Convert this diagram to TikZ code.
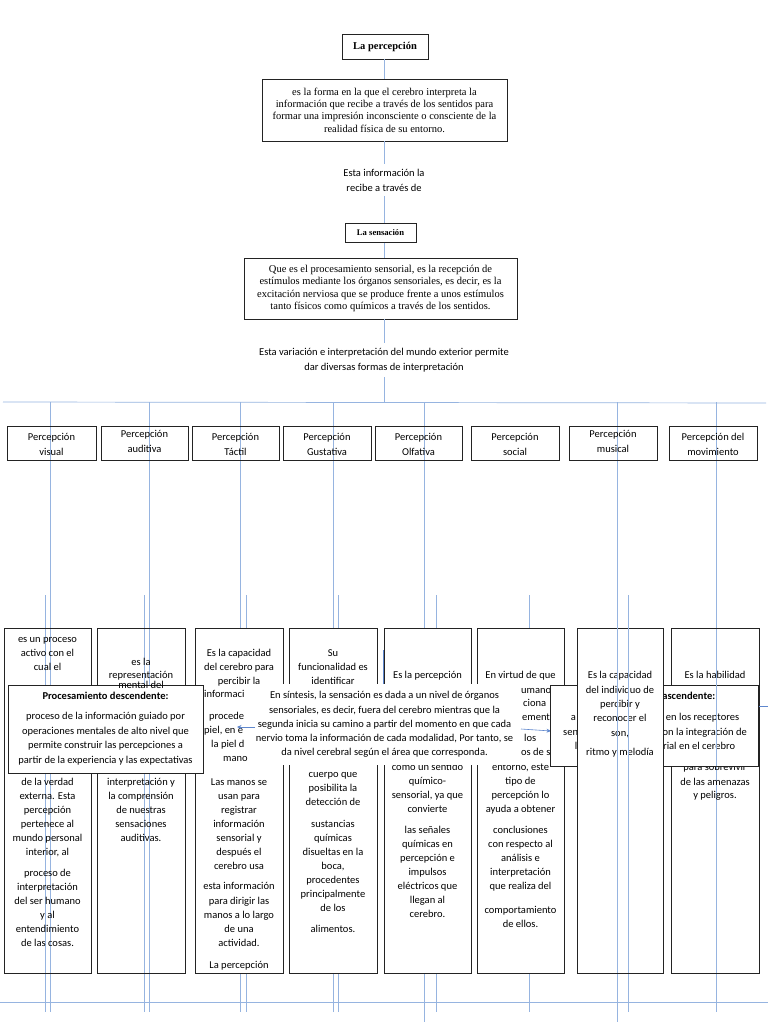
\documentclass[tikz,border=0pt]{standalone}
\usepackage{fontspec}
\setmainfont{Liberation Serif}
\newfontfamily\calib{Carlito}
\usetikzlibrary{arrows.meta}
\definecolor{lb}{RGB}{150,180,224}
\definecolor{lbd}{RGB}{95,135,205}
\definecolor{bxc}{RGB}{35,35,35}
\newcommand\colt[3]{\foreach \yy/\lin [count=\i] in {#3} {\node[tx] (#1-\i) at (#2,\yy+3.5) {\lin};}}
\newcommand\catbox[6]{\node[bx, minimum width=#3pt, minimum height=34pt] (#1) at (#2,443) {};
  \node[tx] (#1a) at (#2,#6+3.5) {#4};
  \node[tx] (#1b) at (#2,#6+18.5) {#5};}
\newcommand\colbox[4]{\node[bx, minimum width=#3pt, minimum height=345pt, #4] (#1) at (#2,800.5) {};}
\begin{document}
\begin{tikzpicture}[x=1pt,y=-1pt,
  bx/.style={draw=bxc, line width=0.8pt, inner sep=0pt},
  tx/.style={font=\calib\fontsize{10.5}{12}\selectfont, inner sep=0pt, anchor=base},
  txw/.style={tx, anchor=base west},
  txe/.style={tx, anchor=base east},
  txb/.style={tx, font=\calib\bfseries\fontsize{10.5}{12}\selectfont},
  conn/.style={draw=lb, line width=0.7pt},
  arr/.style={draw=lbd, line width=0.6pt, -{Stealth[length=4.5pt,width=4pt]}},
  ser/.style={font=\fontsize{10.5}{12.4}\selectfont, align=center},
  stx/.style={font=\calib\fontsize{10.5}{15}\selectfont, align=center, inner sep=5pt}
]
\useasboundingbox[fill=white] (0,0) rectangle (768,1024);
\coordinate (ax) at (384,0);

% ---------- top part ----------
\node[bx, minimum width=86pt, minimum height=25pt, font=\bfseries\fontsize{10.5}{12}\selectfont] (p1) at (385,46.5) {La percepción};
\node[bx, minimum width=245pt, minimum height=62pt, ser] (d1) at (384.5,110) {es la forma en la que el cerebro interpreta la\\información que recibe a través de los sentidos para\\formar una impresión inconsciente o consciente de la\\realidad física de su entorno.};
\node[stx] (t1) at (384,180) {Esta información la\\recibe a través de};
\node[bx, minimum width=71pt, minimum height=19pt, font=\bfseries\fontsize{8.6}{10}\selectfont] (s1) at (380.5,233) {La sensación};
\node[bx, minimum width=273pt, minimum height=61pt, ser] (sd) at (380.5,288.5) {Que es el procesamiento sensorial, es la recepción de\\estímulos mediante los órganos sensoriales, es decir, es la\\excitación nerviosa que se produce frente a unos estímulos\\tanto físicos como químicos a través de los sentidos.};
\node[stx] (t2) at (384,360) {Esta variación e interpretación del mundo exterior permite\\dar diversas formas de interpretación};

\coordinate (hL) at (3,402);
\coordinate (hR) at (766,403);
\draw[conn] (ax |- p1.south) -- (ax |- d1.north);
\draw[conn] (ax |- d1.south) -- (ax |- t1.north);
\draw[conn] (ax |- t1.south) -- (ax |- s1.north);
\draw[conn] (ax |- s1.south) -- (ax |- sd.north);
\draw[conn] (ax |- sd.south) -- (ax |- t2.north);
\draw[conn] (ax |- t2.south) -- (ax |- hL);
\draw[conn] (hL) -- (hR);

% ---------- vertical lines ----------
\foreach \n/\x/\e in {1/50/1012, 2/149/1012, 3/240/1012, 4/333/1012, 5/424/1022, 7/617/1022, 8/716/1012} {
  \coordinate (vt\n) at (\x,402); \coordinate (vb\n) at (\x,\e); \draw[conn] (vt\n) -- (vb\n);}
\foreach \n/\x in {1/45, 2/144, 3/246, 4/338, 5/436, 6/529, 7/628} {
  \coordinate (wt\n) at (\x,595); \coordinate (wb\n) at (\x,1012); \draw[conn] (wt\n) -- (wb\n);}
\coordinate (bL) at (0,1002); \coordinate (bR) at (768,1002);
\draw[conn] (bL) -- (bR);

% ---------- category row ----------
\catbox{k1}{51.5}{89}{Percepción}{visual}{437}
\catbox{k2}{144.5}{87}{Percepción}{auditiva}{434}
\catbox{k3}{235.5}{87}{Percepción}{Táctil}{437}
\catbox{k4}{327}{88}{Percepción}{Gustativa}{437}
\catbox{k5}{418.5}{87}{Percepción}{Olfativa}{437}
\catbox{k6}{515}{88}{Percepción}{social}{437}
\catbox{k7}{613}{88}{Percepción}{musical}{434}
\catbox{k8}{713}{88}{Percepción del}{movimiento}{437}

% ---------- opaque column boxes 3-6 ----------
\colbox{b3}{239}{88}{fill=white}
\colbox{b4}{333}{88}{fill=white}
\colbox{b5}{427.5}{87}{fill=white}
\colbox{b6}{520.5}{87}{fill=white}

\colt{cc}{239}{653/Es la capacidad, 667/del cerebro para, 681/percibir la,
  782/Las manos se, 796/usan para, 810/registrar, 824/información, 838/sensorial y,
  852/después el, 866/cerebro usa, 886/esta información, 901/para dirigir las,
  915/manos a lo largo, 929/de una, 943/actividad., 965/La percepción}
\node[txw] (cc-f1) at (204,697.5) {informaci};
\node[txw] (cc-f2) at (209,719.5) {procede};
\node[txw] (cc-f3) at (204,733.5) {piel, en e};
\node[txw] (cc-f4) at (211,747.5) {la piel d};
\node[txw] (cc-f5) at (223,761.5) {mano};

\colt{cd}{333}{653/Su, 667/funcionalidad es, 681/identificar, 774/cuerpo que,
  788/posibilita la, 802/detección de, 824/sustancias, 838/químicas, 852/disueltas en la,
  866/{boca,}, 880/procedentes, 894/principalmente, 908/de los, 929/alimentos.}

\colt{ce}{427.5}{675/Es la percepción, 767/como un sentido, 781/químico-,
  795/{sensorial, ya que}, 809/convierte, 830/las señales, 844/químicas en,
  858/percepción e, 872/impulsos, 886/eléctricos que, 900/llegan al, 914/cerebro.}

\colt{cf}{520.5}{675/En virtud de que, 767/{entorno, este}, 781/tipo de, 795/percepción lo,
  809/ayuda a obtener, 830/conclusiones, 844/con respecto al, 858/análisis e,
  872/interpretación, 886/que realiza del, 910/comportamiento, 924/de ellos.}
\node[txw] (cf-f1) at (521,693.5) {umano};
\node[txw] (cf-f2) at (523,706.5) {ciona};
\node[txw] (cf-f3) at (522,720.5) {ement};
\node[txw] (cf-f4) at (524,741.5) {los};
\node[txw] (cf-f5) at (521,755.5) {os de s};

% ---------- transparent column boxes 1, 2, 8 ----------
\colbox{b1}{47.5}{87}{}
\colbox{b2}{141}{88}{}
\colbox{b8}{715}{88}{}

\colt{ca}{47.5}{639/es un proceso, 653/activo con el, 667/cual el, 782/de la verdad,
  796/externa. Esta, 810/percepción, 824/pertenece al, 838/mundo personal,
  852/{interior, al}, 873/proceso de, 887/interpretación, 901/del ser humano,
  915/y al, 929/entendimiento, 943/de las cosas.}
\colt{cb}{141}{662/es la, 675/representación, 782/interpretación y, 796/la comprensión,
  810/de nuestras, 824/sensaciones, 838/auditivas.}
\colt{ch}{715}{675/Es la habilidad, 767/para sobrevivir, 782/de las amenazas, 795/y peligros.}

% ---------- Procesamiento descendente ----------
\node[bx, fill=white, minimum width=195pt, minimum height=88pt] (desc) at (105.5,729) {};
\node[txb] (desc-t) at (105.5,699) {Procesamiento descendente:};
\colt{dl}{105.5}{716/proceso de la información guiado por, 731/operaciones mentales de alto nivel que,
  745/permite construir las percepciones a, 760/partir de la experiencia y las expectativas}
\node[tx] (cb-m) at (141,688.3) {mental del};

% ---------- En sintesis ----------
\node[fill=white, inner sep=0pt, minimum width=267pt, minimum height=81pt] (sint) at (385.5,724.5) {};
\colt{sl}{384.5}{695/{En síntesis, la sensación es dada a un nivel de órganos},
  709.5/{sensoriales, es decir, fuera del cerebro mientras que la},
  723.5/segunda inicia su camino a partir del momento en que cada,
  737.5/{nervio toma la información de cada modalidad, Por tanto, se},
  751.5/da nivel cerebral según el área que corresponda.}
\coordinate (la1) at (255,727); \coordinate (la2) at (237,727);
\draw[arr] (la1) -- (la2);
\coordinate (ra1) at (521,729); \coordinate (ra2) at (551,731);
\draw[arr] (ra1) -- (ra2);

% ---------- Procesamiento ascendente ----------
\node[bx, fill=white, minimum width=208pt, minimum height=81pt] (asc) at (654,725.5) {};
\node[txb, anchor=base east] (asc-t) at (715.4,699.5) {ascendente:};
\node[txw] (asc-a1) at (570.6,720.5) {a};
\node[txe] (asc-a2) at (739.4,720.5) {en los receptores};
\node[txw] (asc-b1) at (563,735.5) {sen};
\node[txe] (asc-b2) at (747,735.5) {on la integración de};
\node[txw] (asc-c1) at (574.7,749.5) {l};
\node[txe] (asc-c2) at (735.3,749.5) {rial en el cerebro};

% ---------- musical box on top ----------
\colbox{b7}{620}{86}{fill=white}
\colt{cg}{620}{675/Es la capacidad, 690/del individuo de, 704/percibir y, 718/reconocer el,
  733/{son,}, 752/ritmo y melodía}
\coordinate (m1t) at (617,628); \coordinate (m1b) at (617,973);
\coordinate (m2t) at (628,628); \coordinate (m2b) at (628,973);
\draw[conn] (m1t) -- (m1b);
\draw[conn] (m2t) -- (m2b);
\coordinate (h1t) at (716,685); \coordinate (h1b) at (716,766);
\draw[conn] (h1t) -- (h1b);

% ---------- small extra strokes ----------
\coordinate (x1) at (383,650); \coordinate (x2) at (383,684);
\draw[draw=lbd, line width=0.7pt] (x1) -- (x2);
\coordinate (y1) at (759,706); \coordinate (y2) at (768,706);
\draw[draw=lbd, line width=0.7pt] (y1) -- (y2);
\end{tikzpicture}
\end{document}
